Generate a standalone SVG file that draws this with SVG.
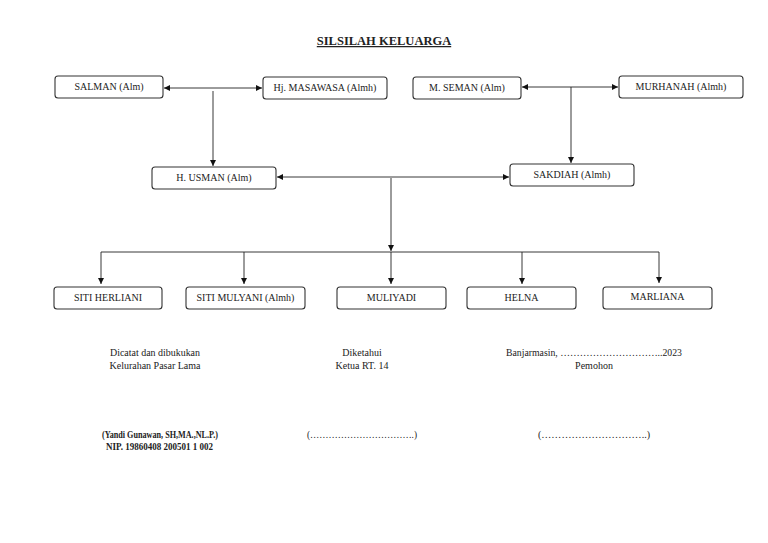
<svg xmlns="http://www.w3.org/2000/svg" width="768" height="543" viewBox="0 0 768 543">
<style>
text{font-family:"Liberation Serif","Times New Roman",serif;font-size:10px;fill:#222;text-anchor:middle}
.box{fill:#fff;stroke:#333;stroke-width:1.1}
.ln{stroke:#222;stroke-width:0.9;fill:none}
.b{font-weight:bold;font-size:9.3px}
</style>
<defs>
<marker id="ah" viewBox="0 0 10 10" refX="10" refY="5" markerWidth="6" markerHeight="6" markerUnits="userSpaceOnUse" orient="auto-start-reverse">
<path d="M0,0 L10,5 L0,10 z" fill="#111"/>
</marker>
</defs>
<rect width="768" height="543" fill="#fff"/>
<text x="384" y="45" style="font-size:12.5px;font-weight:bold" text-decoration="underline">SILSILAH KELUARGA</text>
<g id="connectors">
<line class="ln" x1="164" y1="88" x2="262" y2="88" marker-start="url(#ah)" marker-end="url(#ah)"/>
<line class="ln" x1="213" y1="91" x2="213" y2="166" marker-end="url(#ah)"/>
<line class="ln" x1="522" y1="87" x2="618" y2="87" marker-start="url(#ah)" marker-end="url(#ah)"/>
<line class="ln" x1="571" y1="87" x2="571" y2="163" marker-end="url(#ah)"/>
<line class="ln" x1="277" y1="177" x2="509" y2="177" marker-start="url(#ah)" marker-end="url(#ah)"/>
<line class="ln" x1="391" y1="178" x2="391" y2="251" marker-end="url(#ah)"/>
<line class="ln" x1="101" y1="252" x2="659" y2="252"/>
<line class="ln" x1="101" y1="252" x2="101" y2="284" marker-end="url(#ah)"/>
<line class="ln" x1="244" y1="252" x2="244" y2="284" marker-end="url(#ah)"/>
<line class="ln" x1="391" y1="252" x2="391" y2="284" marker-end="url(#ah)"/>
<line class="ln" x1="522" y1="252" x2="522" y2="284" marker-end="url(#ah)"/>
<line class="ln" x1="659" y1="252" x2="659" y2="283" marker-end="url(#ah)"/>
</g>
<g id="salman"><rect class="box" x="55" y="76" width="108" height="22" rx="3"/><text x="109" y="89.5">SALMAN (Alm)</text></g>
<g id="masawasa"><rect class="box" x="263" y="77" width="124" height="22" rx="3"/><text x="325" y="91">Hj. MASAWASA (Almh)</text></g>
<g id="seman"><rect class="box" x="413" y="77" width="108" height="22" rx="3"/><text x="467" y="91">M. SEMAN (Alm)</text></g>
<g id="murhanah"><rect class="box" x="619" y="76" width="124" height="22" rx="3"/><text x="681" y="89.5">MURHANAH (Almh)</text></g>
<g id="usman"><rect class="box" x="152" y="167" width="124" height="22" rx="3"/><text x="214" y="180.5">H. USMAN (Alm)</text></g>
<g id="sakdiah"><rect class="box" x="510" y="164" width="124" height="22" rx="3"/><text x="572" y="178">SAKDIAH (Almh)</text></g>
<g id="herliani"><rect class="box" x="54" y="287" width="108" height="22" rx="3"/><text x="108" y="300.5">SITI HERLIANI</text></g>
<g id="mulyani"><rect class="box" x="186" y="287" width="119" height="22" rx="3"/><text x="245.5" y="301">SITI MULYANI (Almh)</text></g>
<g id="muliyadi"><rect class="box" x="337" y="287" width="109" height="22" rx="3"/><text x="391.5" y="301">MULIYADI</text></g>
<g id="helna"><rect class="box" x="467" y="287" width="109" height="22" rx="3"/><text x="521.5" y="301">HELNA</text></g>
<g id="marliana"><rect class="box" x="603" y="287" width="109" height="22" rx="3"/><text x="657.5" y="300">MARLIANA</text></g>
<text x="155" y="356" textLength="90" lengthAdjust="spacingAndGlyphs">Dicatat dan dibukukan</text>
<text x="155" y="369" textLength="91" lengthAdjust="spacingAndGlyphs">Kelurahan Pasar Lama</text>
<text x="362" y="356">Diketahui</text>
<text x="362" y="369">Ketua RT. 14</text>
<text x="594" y="356" textLength="176" lengthAdjust="spacingAndGlyphs">Banjarmasin, …………………………..2023</text>
<text x="594" y="369">Pemohon</text>
<text x="160" y="438" class="b" textLength="116" lengthAdjust="spacingAndGlyphs">(Yandi Gunawan, SH,MA.,NL.P.)</text>
<text x="159.5" y="450" class="b" textLength="107" lengthAdjust="spacingAndGlyphs">NIP. 19860408 200501 1 002</text>
<text x="362" y="438" textLength="110" lengthAdjust="spacingAndGlyphs">(…………………………….)</text>
<text x="594" y="438" textLength="112" lengthAdjust="spacingAndGlyphs">(…………………………..)</text>
</svg>
